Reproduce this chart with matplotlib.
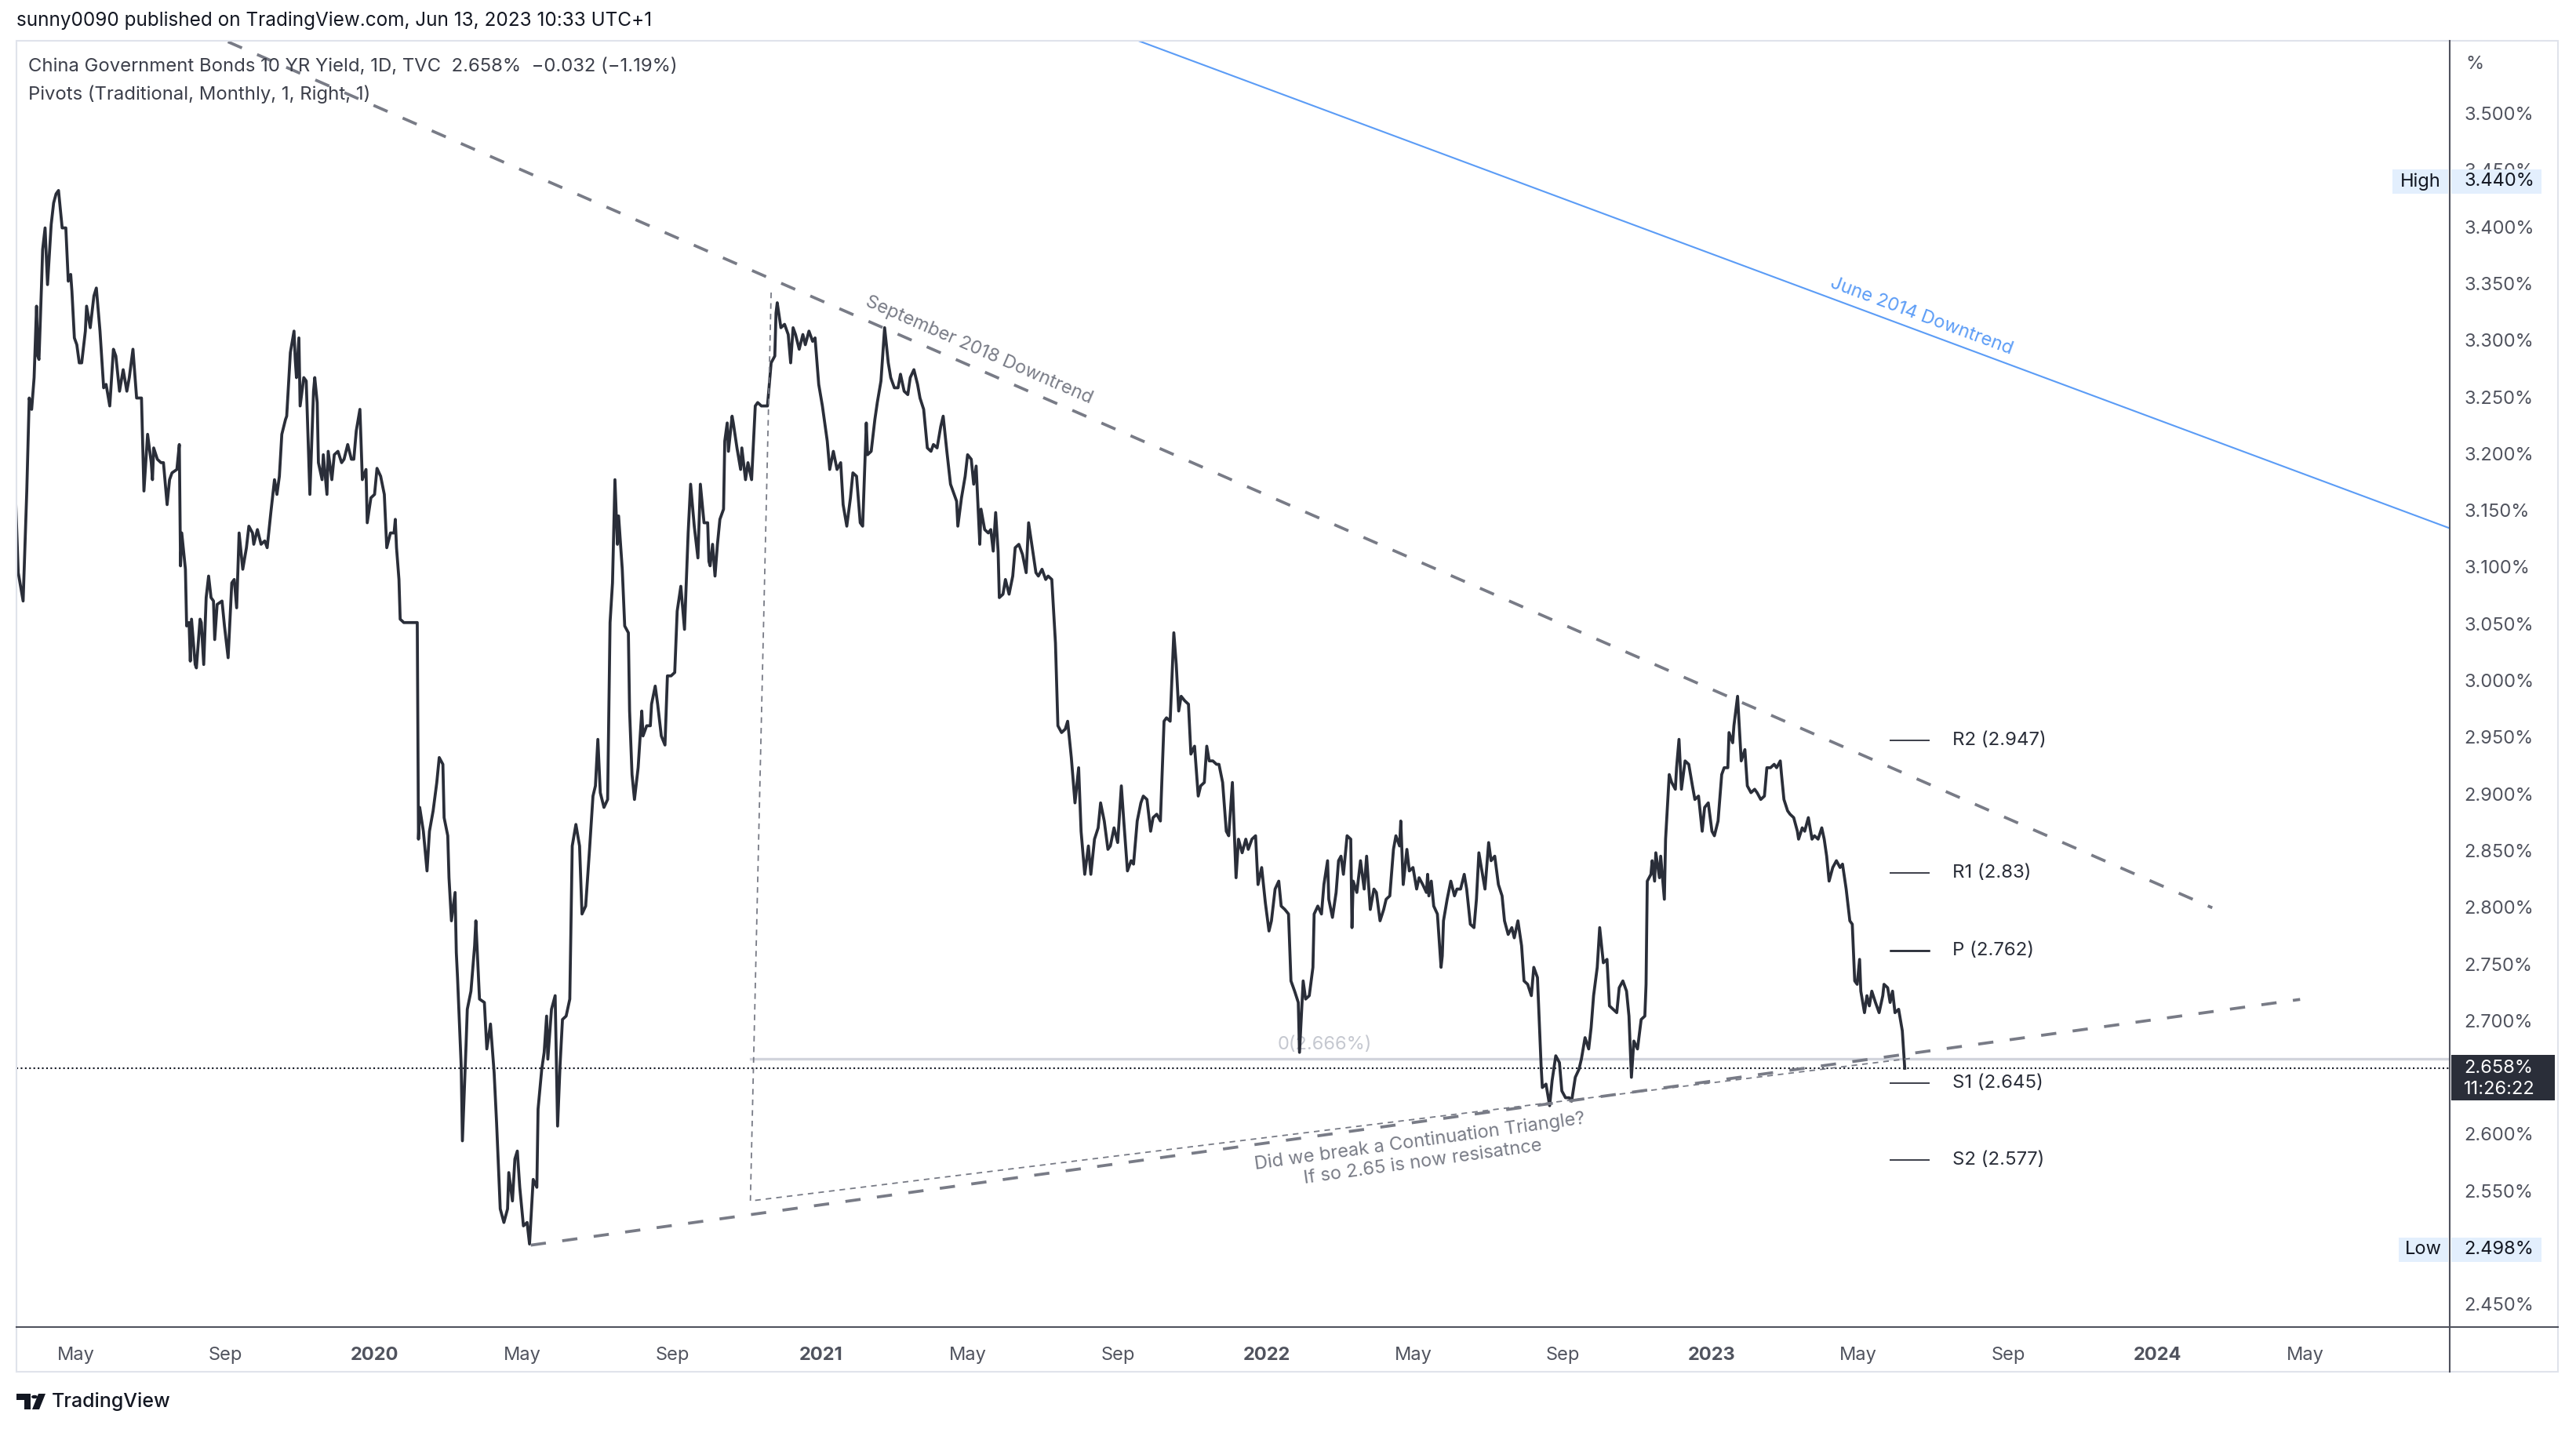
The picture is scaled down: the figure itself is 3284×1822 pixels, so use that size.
import math
import matplotlib
matplotlib.use("Agg")
import matplotlib.pyplot as plt
import matplotlib.dates as mdates
import matplotlib.transforms as mtransforms
from matplotlib.patches import Rectangle, Circle, Polygon
from matplotlib.lines import Line2D
import numpy as np
import pandas as pd

plt.rcParams['font.family'] = ['Inter', 'DejaVu Sans']

# ---- data ----
start = "2019-03-13"   # day 0 = left edge of the chart
day_offset = [
    0, 2, 6, 9, 11, 13, 15, 17, 18, 19, 21, 22, 24, 26, 29, 31, 33, 35, 38, 41,
    43, 45, 46, 48, 50, 52, 54, 57, 58, 61, 64, 66, 69, 72, 74, 77, 80, 82, 85, 88,
    91, 93, 96, 99, 103, 105, 108, 111, 112, 113, 116, 119, 121, 124, 126, 128, 132, 134, 135, 136,
    139, 140, 142, 143, 144, 147, 148, 151, 152, 154, 156, 158, 160, 162, 163, 165, 169, 171, 174, 177,
    179, 181, 183, 186, 189, 191, 194, 195, 198, 201, 204, 206, 209, 212, 214, 216, 218, 221, 222, 225,
    228, 229, 230, 232, 233, 236, 238, 241, 244, 245, 247, 248, 251, 252, 255, 256, 259, 261, 264, 267,
    269, 272, 275, 277, 279, 282, 284, 287, 288, 291, 294, 296, 299, 302, 304, 307, 310, 311, 312, 314,
    315, 318, 329, 330, 331, 334, 337, 339, 342, 345, 347, 350, 351, 354, 355, 357, 360, 361, 362, 365,
    366, 369, 370, 373, 376, 377, 380, 384, 386, 389, 392, 394, 397, 400, 403, 404, 407, 409, 411, 413,
    416, 419, 421, 424, 427, 428, 431, 433, 435, 436, 439, 442, 444, 446, 448, 451, 454, 456, 459, 462,
    464, 467, 470, 473, 475, 477, 479, 482, 485, 487, 489, 491, 493, 494, 497, 499, 502, 503, 505, 507,
    510, 513, 514, 517, 520, 521, 524, 526, 529, 532, 534, 537, 540, 542, 545, 548, 551, 553, 556, 559,
    561, 564, 567, 568, 569, 571, 573, 575, 577, 580, 581, 583, 584, 587, 588, 591, 594, 595, 598, 600,
    603, 606, 608, 611, 614, 616, 619, 622, 623, 624, 627, 630, 633, 635, 637, 639, 642, 645, 647, 650,
    653, 655, 658, 661, 665, 667, 670, 673, 676, 678, 681, 684, 686, 689, 692, 694, 697, 698, 701, 704,
    706, 709, 712, 715, 717, 720, 723, 725, 728, 731, 733, 736, 739, 741, 744, 747, 750, 752, 755, 758,
    760, 763, 766, 768, 771, 772, 775, 778, 780, 783, 785, 787, 790, 791, 794, 797, 799, 801, 803, 805,
    806, 809, 811, 814, 817, 819, 822, 825, 828, 830, 833, 836, 838, 841, 844, 846, 849, 852, 854, 857,
    860, 862, 865, 868, 871, 873, 876, 879, 881, 884, 887, 889, 892, 895, 897, 900, 903, 906, 908, 911,
    914, 916, 919, 922, 924, 927, 930, 932, 935, 938, 941, 943, 946, 949, 951, 953, 955, 958, 961, 963,
    966, 969, 971, 974, 976, 978, 981, 984, 986, 989, 992, 994, 997, 1000, 1002, 1005, 1008, 1010, 1013, 1016,
    1018, 1021, 1024, 1027, 1029, 1032, 1035, 1037, 1040, 1043, 1045, 1048, 1051, 1052, 1055, 1057, 1060, 1063, 1064, 1067,
    1070, 1072, 1075, 1076, 1079, 1082, 1084, 1086, 1088, 1091, 1094, 1095, 1096, 1099, 1102, 1105, 1107, 1110, 1113, 1115,
    1118, 1121, 1123, 1126, 1129, 1131, 1134, 1135, 1137, 1140, 1142, 1145, 1148, 1150, 1153, 1156, 1157, 1158, 1160, 1162,
    1165, 1168, 1169, 1170, 1173, 1176, 1179, 1181, 1184, 1187, 1189, 1192, 1195, 1197, 1199, 1201, 1204, 1207, 1209, 1212,
    1215, 1218, 1220, 1223, 1226, 1228, 1231, 1234, 1236, 1239, 1242, 1244, 1247, 1250, 1251, 1254, 1257, 1259, 1262, 1265,
    1267, 1270, 1273, 1275, 1278, 1281, 1283, 1286, 1289, 1291, 1293, 1296, 1298, 1301, 1304, 1306, 1309, 1312, 1314, 1317,
    1320, 1322, 1324, 1326, 1329, 1332, 1335, 1336, 1337, 1340, 1341, 1343, 1344, 1347, 1348, 1351, 1352, 1355, 1357, 1360,
    1361, 1363, 1365, 1368, 1371, 1374, 1376, 1379, 1382, 1384, 1387, 1390, 1392, 1395, 1398, 1400, 1403, 1404, 1407, 1408,
    1411, 1414, 1417, 1419, 1422, 1425, 1427, 1430, 1433, 1435, 1438, 1441, 1443, 1446, 1447, 1449, 1452, 1454, 1457, 1460,
    1461, 1464, 1466, 1469, 1472, 1474, 1477, 1480, 1482, 1484, 1486, 1489, 1492, 1495, 1497, 1500, 1503, 1505, 1507, 1509,
    1511, 1512, 1515, 1517, 1519, 1521, 1524, 1527, 1530, 1531, 1534, 1536, 1538, 1540, 1543, 1546, 1547, 1548,
]
yld = [
    3.155, 3.095, 3.070, 3.167, 3.249, 3.239, 3.267, 3.330, 3.286, 3.283, 3.346, 3.380, 3.399, 3.349, 3.402, 3.421, 3.429, 3.432, 3.399, 3.399,
    3.352, 3.358, 3.343, 3.302, 3.296, 3.280, 3.280, 3.308, 3.330, 3.311, 3.339, 3.346, 3.308, 3.258, 3.261, 3.242, 3.292, 3.286, 3.255, 3.274,
    3.255, 3.267, 3.292, 3.249, 3.249, 3.167, 3.217, 3.192, 3.177, 3.205, 3.195, 3.192, 3.192, 3.155, 3.177, 3.183, 3.186, 3.208, 3.101, 3.130,
    3.098, 3.048, 3.051, 3.017, 3.054, 3.014, 3.011, 3.054, 3.051, 3.014, 3.073, 3.092, 3.073, 3.070, 3.036, 3.067, 3.070, 3.048, 3.020, 3.086,
    3.089, 3.064, 3.130, 3.098, 3.117, 3.136, 3.130, 3.120, 3.133, 3.120, 3.123, 3.117, 3.148, 3.177, 3.164, 3.180, 3.217, 3.230, 3.233, 3.289,
    3.308, 3.283, 3.267, 3.302, 3.242, 3.267, 3.264, 3.164, 3.255, 3.267, 3.245, 3.192, 3.177, 3.199, 3.164, 3.202, 3.177, 3.199, 3.202, 3.192,
    3.195, 3.208, 3.195, 3.195, 3.220, 3.239, 3.177, 3.186, 3.139, 3.161, 3.164, 3.187, 3.180, 3.164, 3.117, 3.130, 3.130, 3.142, 3.117, 3.089,
    3.054, 3.051, 3.051, 2.860, 2.888, 2.867, 2.832, 2.867, 2.885, 2.910, 2.932, 2.926, 2.879, 2.863, 2.826, 2.788, 2.813, 2.760, 2.738, 2.660,
    2.594, 2.679, 2.710, 2.726, 2.766, 2.788, 2.719, 2.716, 2.675, 2.697, 2.654, 2.610, 2.534, 2.522, 2.534, 2.566, 2.541, 2.578, 2.585, 2.553,
    2.519, 2.522, 2.503, 2.560, 2.553, 2.622, 2.657, 2.672, 2.704, 2.666, 2.710, 2.722, 2.607, 2.660, 2.701, 2.704, 2.719, 2.854, 2.873, 2.854,
    2.794, 2.801, 2.848, 2.898, 2.907, 2.948, 2.901, 2.888, 2.895, 3.051, 3.086, 3.177, 3.120, 3.145, 3.098, 3.048, 3.042, 2.973, 2.917, 2.895,
    2.923, 2.973, 2.951, 2.960, 2.960, 2.979, 2.995, 2.979, 2.951, 2.943, 3.004, 3.004, 3.007, 3.061, 3.083, 3.045, 3.130, 3.173, 3.136, 3.108,
    3.173, 3.139, 3.139, 3.105, 3.101, 3.120, 3.092, 3.120, 3.142, 3.151, 3.211, 3.227, 3.202, 3.233, 3.227, 3.205, 3.186, 3.205, 3.177, 3.192,
    3.177, 3.242, 3.245, 3.242, 3.242, 3.242, 3.280, 3.286, 3.324, 3.333, 3.311, 3.314, 3.305, 3.280, 3.311, 3.305, 3.292, 3.305, 3.296, 3.308,
    3.299, 3.302, 3.261, 3.242, 3.211, 3.186, 3.202, 3.186, 3.192, 3.155, 3.136, 3.161, 3.183, 3.180, 3.139, 3.136, 3.227, 3.199, 3.202, 3.230,
    3.245, 3.264, 3.311, 3.280, 3.267, 3.258, 3.258, 3.270, 3.255, 3.252, 3.267, 3.274, 3.261, 3.249, 3.239, 3.205, 3.202, 3.208, 3.205, 3.224,
    3.233, 3.202, 3.173, 3.167, 3.158, 3.136, 3.161, 3.180, 3.199, 3.195, 3.173, 3.189, 3.120, 3.151, 3.133, 3.130, 3.133, 3.114, 3.148, 3.114,
    3.073, 3.076, 3.089, 3.076, 3.092, 3.117, 3.120, 3.111, 3.095, 3.139, 3.117, 3.095, 3.092, 3.098, 3.089, 3.092, 3.089, 3.033, 2.960, 2.954,
    2.957, 2.964, 2.932, 2.892, 2.923, 2.867, 2.829, 2.854, 2.829, 2.860, 2.870, 2.892, 2.876, 2.851, 2.854, 2.870, 2.857, 2.907, 2.876, 2.832,
    2.841, 2.838, 2.876, 2.892, 2.898, 2.895, 2.867, 2.879, 2.882, 2.876, 2.964, 2.967, 2.964, 3.042, 3.014, 2.973, 2.986, 2.982, 2.979, 2.935,
    2.942, 2.898, 2.907, 2.910, 2.942, 2.929, 2.929, 2.926, 2.926, 2.910, 2.867, 2.863, 2.910, 2.826, 2.860, 2.848, 2.860, 2.851, 2.860, 2.863,
    2.820, 2.835, 2.804, 2.779, 2.788, 2.816, 2.823, 2.801, 2.798, 2.794, 2.735, 2.726, 2.716, 2.672, 2.735, 2.719, 2.722, 2.747, 2.794, 2.801,
    2.794, 2.820, 2.841, 2.807, 2.791, 2.813, 2.841, 2.845, 2.829, 2.863, 2.860, 2.782, 2.823, 2.813, 2.841, 2.816, 2.845, 2.798, 2.816, 2.813,
    2.788, 2.798, 2.807, 2.810, 2.851, 2.863, 2.854, 2.876, 2.820, 2.851, 2.832, 2.835, 2.816, 2.826, 2.820, 2.813, 2.829, 2.810, 2.823, 2.801,
    2.794, 2.747, 2.757, 2.788, 2.807, 2.823, 2.810, 2.816, 2.816, 2.829, 2.816, 2.785, 2.782, 2.807, 2.848, 2.835, 2.816, 2.857, 2.841, 2.845,
    2.820, 2.810, 2.788, 2.776, 2.782, 2.773, 2.788, 2.766, 2.735, 2.732, 2.722, 2.747, 2.738, 2.660, 2.641, 2.644, 2.625, 2.647, 2.669, 2.663,
    2.638, 2.632, 2.632, 2.629, 2.650, 2.657, 2.666, 2.685, 2.675, 2.694, 2.722, 2.747, 2.782, 2.751, 2.754, 2.713, 2.710, 2.707, 2.729, 2.735,
    2.726, 2.704, 2.650, 2.682, 2.675, 2.701, 2.704, 2.732, 2.823, 2.829, 2.841, 2.823, 2.848, 2.826, 2.845, 2.807, 2.860, 2.917, 2.910, 2.904,
    2.923, 2.948, 2.904, 2.929, 2.926, 2.907, 2.895, 2.898, 2.867, 2.888, 2.892, 2.867, 2.863, 2.876, 2.917, 2.923, 2.923, 2.954, 2.945, 2.960,
    2.986, 2.929, 2.939, 2.907, 2.901, 2.904, 2.901, 2.895, 2.898, 2.923, 2.923, 2.926, 2.923, 2.929, 2.917, 2.895, 2.885, 2.882, 2.879, 2.867,
    2.860, 2.870, 2.867, 2.879, 2.860, 2.863, 2.860, 2.870, 2.860, 2.845, 2.823, 2.835, 2.841, 2.835, 2.838, 2.816, 2.788, 2.785, 2.735, 2.732,
    2.754, 2.726, 2.707, 2.722, 2.713, 2.726, 2.716, 2.707, 2.722, 2.732, 2.729, 2.716, 2.726, 2.707, 2.710, 2.691, 2.675, 2.658,
]

ytick_vals = [2.45, 2.50, 2.55, 2.60, 2.65, 2.70, 2.75, 2.80, 2.85, 2.90, 2.95,
              3.00, 3.05, 3.10, 3.15, 3.20, 3.25, 3.30, 3.35, 3.40, 3.45, 3.50]
hidden_yticks = [2.50, 2.65]   # covered by the Low box and the last-price box
xtick_dates = ["2019-05-01", "2019-09-01", "2020-01-01", "2020-05-01", "2020-09-01",
               "2021-01-01", "2021-05-01", "2021-09-01", "2022-01-01", "2022-05-01",
               "2022-09-01", "2023-01-01", "2023-05-01", "2023-09-01", "2024-01-01",
               "2024-05-01"]
xtick_labels = ["May", "Sep", "2020", "May", "Sep", "2021", "May", "Sep", "2022",
                "May", "Sep", "2023", "May", "Sep", "2024", "May"]

pivot_names = ["R2", "R1", "P", "S1", "S2"]
pivot_vals = [2.947, 2.83, 2.762, 2.645, 2.577]
pivot_span = [1536, 1568]
pivot_label_day = 1587

high_val = 3.440
low_val = 2.498
last_val = 2.658
countdown = "11:26:22"
fib_level = 2.666
fib_level_start = 602
fib_label_day = 1034

# trend lines drawn on the chart (day offset, yield)
sep2018_days, sep2018_vals = [150, 1800], [3.5743, 2.7995]
jun2014_days, jun2014_vals = [900, 2060], [3.572, 3.108]
tri_days, tri_vals = [422, 1872], [2.502, 2.7187]
fib_days, fib_vals = [619, 602, 1555], [3.342, 2.541, 2.667]

x_range = [0.55, 1994.6]
y_range = [2.4298, 3.564]

# ---- colours ----
LINE = '#2a2e39'
GRAY = '#787b86'
BLUE = '#5b9cf6'
AXC = '#50535e'
TXT = '#131722'

W, H = 3284, 1822
def fx(px):
    return px / W
def fy(py):
    return 1 - py / H

fig = plt.figure(figsize=(W / 100, H / 100), dpi=100)
fig.patch.set_facecolor('white')
ax = fig.add_axes([fx(21), fy(1692), fx(3123) - fx(21), fy(52) - fy(1692)])
for s in ax.spines.values():
    s.set_visible(False)

t0 = mdates.date2num(pd.Timestamp(start))
xs = t0 + np.array(day_offset)
def dx(d):
    return t0 + np.asarray(d, dtype=float)

ax.set_xlim(dx(x_range[0]), dx(x_range[1]))
ax.set_ylim(*y_range)

# series
ax.plot(xs, yld, color=LINE, lw=2.7, solid_joinstyle='round', zorder=4)

# current price dotted line
ax.axhline(last_val, color=TXT, lw=1.5, ls=(0, (1, 1.6)), zorder=3)

# fib level
ax.plot([dx(fib_level_start), dx(x_range[1])], [fib_level, fib_level],
        color='#d1d4dc', lw=2.4, zorder=2)
ax.text(dx(fib_label_day), fib_level + 0.0127, "0(2.666%)", color='#c5c8d0',
        fontsize=17, ha='left', va='center', zorder=2)

# trend lines
ax.plot(dx(sep2018_days), sep2018_vals, color=GRAY, lw=2.7, ls=(0, (5.2, 5.6)), zorder=5)
ax.plot(dx(tri_days), tri_vals, color=GRAY, lw=2.7, ls=(0, (5.2, 5.6)), zorder=5)
ax.plot(dx(fib_days), fib_vals, color=GRAY, lw=1.3, ls=(0, (4, 3.5)), zorder=5)
ax.plot(dx(jun2014_days), jun2014_vals, color=BLUE, lw=1.5, zorder=5)

def screen_angle(days, vals):
    p = ax.transData.transform(np.column_stack([dx(days), vals]))
    return math.degrees(math.atan2(p[1, 1] - p[0, 1], p[1, 0] - p[0, 0]))

ax.text(dx(789), 3.2908, "September 2018 Downtrend", color=GRAY, fontsize=17,
        rotation=screen_angle(sep2018_days, sep2018_vals), rotation_mode='anchor',
        ha='center', va='center', zorder=6)
ax.text(dx(1561.5), 3.3212, "June 2014 Downtrend", color=BLUE, fontsize=17,
        rotation=screen_angle(jun2014_days, jun2014_vals), rotation_mode='anchor',
        ha='center', va='center', zorder=6)
ax.text(dx(1152), 2.584, "Did we break a Continuation Triangle?\nIf so 2.65 is now resisatnce",
        color=GRAY, fontsize=17, rotation=screen_angle(tri_days, tri_vals),
        rotation_mode='anchor', ha='center', va='center', multialignment='center',
        linespacing=1.25, zorder=6)

# pivots
for name, v in zip(pivot_names, pivot_vals):
    ax.plot(dx(pivot_span), [v, v], color=TXT if name == 'P' else '#3c3f4a',
            lw=1.8 if name == 'P' else 1.4, zorder=5)
    ax.text(dx(pivot_label_day), v, f"{name} ({v:g})", color='#2a2e39', fontsize=17.3,
            ha='left', va='center', zorder=6)

# axes ticks
ax.yaxis.tick_right()
ax.set_yticks(ytick_vals)
ax.set_yticklabels(["" if v in hidden_yticks else f"{v:.3f}%" for v in ytick_vals])
ax.tick_params(axis='y', length=0, pad=13, labelsize=17, labelcolor=AXC)
ax.set_xticks(mdates.date2num(pd.to_datetime(xtick_dates)))
ax.set_xticklabels(xtick_labels)
ax.tick_params(axis='x', length=0, pad=18, labelsize=17, labelcolor=AXC)
for lab in ax.get_xticklabels():
    if lab.get_text().isdigit():
        lab.set_fontweight('bold')

# frame and axis lines
fig.add_artist(Rectangle((fx(21), fy(1749)), fx(3261) - fx(21), fy(52) - fy(1749),
                         transform=fig.transFigure, fill=False, ec='#e0e3eb', lw=1.5))
fig.add_artist(Line2D([fx(3123), fx(3123)], [fy(52), fy(1749)], transform=fig.transFigure,
                      color=AXC, lw=1.5))
fig.add_artist(Line2D([fx(21), fx(3261)], [fy(1692), fy(1692)], transform=fig.transFigure,
                      color=AXC, lw=1.5))

# price-scale boxes
ppu = (1692 - 52) / (y_range[1] - y_range[0])
bt = mtransforms.blended_transform_factory(fig.transFigure, ax.transData)
for tag, v, x0 in [("High", high_val, 3050), ("Low", low_val, 3058)]:
    h = 31 / ppu
    ax.add_patch(Rectangle((fx(x0), v - h / 2), fx(3121) - fx(x0), h, transform=bt,
                           fc='#e3effd', ec='none', clip_on=False, zorder=10))
    ax.add_patch(Rectangle((fx(3125), v - h / 2), fx(3240) - fx(3125), h, transform=bt,
                           fc='#e3effd', ec='none', clip_on=False, zorder=10))
    ax.text(fx((x0 + 3121) / 2), v, tag, transform=bt, fontsize=17, color=TXT,
            ha='center', va='center', clip_on=False, zorder=11)
    ax.text(fx(3141), v, f"{v:.3f}%", transform=bt, fontsize=17, color=TXT,
            ha='left', va='center', clip_on=False, zorder=11)

ax.add_patch(Rectangle((fx(3125), last_val - 41 / ppu), fx(3257) - fx(3125), 58 / ppu,
                       transform=bt, fc=LINE, ec='none', clip_on=False, zorder=10))
ax.text(fx(3141), last_val, f"{last_val:.3f}%", transform=bt, fontsize=17, color='white',
        ha='left', va='center', clip_on=False, zorder=11)
ax.text(fx(3141), last_val - 27 / ppu, countdown, transform=bt, fontsize=17, color='white',
        ha='left', va='center', clip_on=False, zorder=11)

fig.text(fx(3155), fy(82), "%", fontsize=17, color=AXC, ha='center', va='center')

# header
fig.text(fx(21), fy(26), "sunny0090 published on TradingView.com, Jun 13, 2023 10:33 UTC+1",
         fontsize=17.5, color=TXT, ha='left', va='center')
fig.text(fx(36), fy(85), "China Government Bonds 10 YR Yield, 1D, TVC  2.658%  \u22120.032 (\u22121.19%)",
         fontsize=17.2, color='#3c3f4a', ha='left', va='center')
fig.text(fx(36), fy(120), "Pivots (Traditional, Monthly, 1, Right, 1)",
         fontsize=17.2, color='#3c3f4a', ha='left', va='center')

# footer logo
fig.add_artist(Polygon([[fx(21), fy(1777)], [fx(39), fy(1777)], [fx(39), fy(1797)],
                        [fx(31), fy(1797)], [fx(31), fy(1785)], [fx(21), fy(1785)]],
                       closed=True, transform=fig.transFigure, fc=TXT, ec='none'))
fig.add_artist(Circle((fx(44), fy(1781)), 4 / W, transform=fig.transFigure, fc=TXT, ec='none'))
fig.add_artist(Polygon([[fx(49), fy(1777)], [fx(58), fy(1777)], [fx(50), fy(1797)],
                        [fx(41), fy(1797)]], closed=True, transform=fig.transFigure,
                       fc=TXT, ec='none'))
fig.text(fx(66), fy(1787), "TradingView", fontsize=18, color=TXT, ha='left', va='center',
         fontweight='medium')

fig.savefig("out.png", dpi=100, facecolor='white')
